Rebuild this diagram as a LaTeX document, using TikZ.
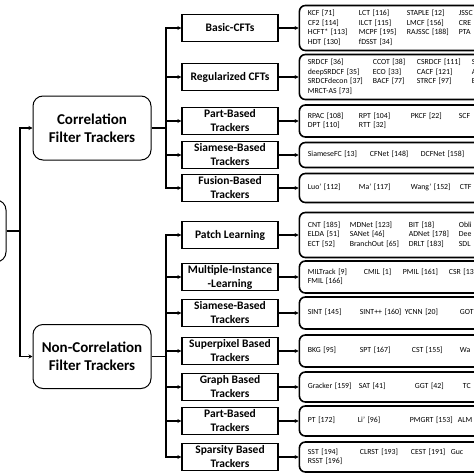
\documentclass[tikz,border=0pt]{standalone}
\usepackage{fontspec}
\usepackage{array}
\setmainfont{Carlito}
\usetikzlibrary{arrows.meta, positioning}
\newcommand{\reftab}[4]{\begin{tabular}{@{}w{l}{#1pt}@{}w{l}{#2pt}@{}w{l}{#3pt}@{}l@{}}#4\end{tabular}}

\begin{document}
\begin{tikzpicture}[x=1pt, y=-1pt,
    main/.style={draw, rounded corners=10pt, line width=1pt,
                 minimum width=118pt, minimum height=64pt, align=center,
                 font=\fontsize{15}{18}\selectfont\bfseries},
    cat/.style={draw, line width=1.2pt, minimum width=96pt, minimum height=27.5pt,
                inner sep=1pt, align=center, font=\fontsize{11.5}{14}\selectfont\bfseries},
    reflist/.style={draw, rounded corners=6pt, line width=1.6pt, anchor=west,
                    text width=222pt, inner xsep=8.5pt, inner ysep=2pt, align=left,
                    font=\fontsize{7.8}{9.7}\selectfont},
    conn/.style={line width=1.5pt, -{Stealth[length=4pt,width=4pt]}},
    link/.style={line width=1.5pt}
  ]
    \clip (0,0) rectangle (474,474);

    \node[main, minimum width=66pt, minimum height=62pt] (root) at (-27,231) {};
    \node[main] (cft) at (92,128) {Correlation\\Filter Trackers};
    \node[main] (ncft) at (92,356.5) {Non-Correlation\\Filter Trackers};

    \node[cat] (c1) at (230,28) {Basic-CFTs};
    \node[cat] (c2) at (230,77) {Regularized CFTs};
    \node[cat] (c3) at (230,121) {Part-Based\\Trackers};
    \node[cat] (c4) at (230,155) {Siamese-Based\\Trackers};
    \node[cat] (c5) at (230,188) {Fusion-Based\\Trackers};
    \node[cat] (c6) at (230,235) {Patch Learning};
    \node[cat] (c7) at (230,277) {Multiple-Instance\\-Learning};
    \node[cat] (c8) at (230,313) {Siamese-Based\\Trackers};
    \node[cat] (c9) at (230,351) {Superpixel Based\\Trackers};
    \node[cat] (c10) at (230,387) {Graph Based\\Trackers};
    \node[cat] (c11) at (230,421) {Part-Based\\Trackers};
    \node[cat] (c12) at (230,457) {Sparsity Based\\Trackers};

    % reference lists
    \node[reflist, minimum height=45pt, right=20pt of c1] (r1) {\reftab{51}{48}{52}{%
      KCF [71] & LCT [116] & STAPLE [12] & JSSC \\
      CF2 [114] & ILCT [115] & LMCF [156] & CRE \\
      HCFT* [113] & MCPF [195] & RAJSSC [188] & PTA \\
      HDT [130] & fDSST [34] & & }};
    \node[reflist, minimum height=45pt, right=20pt of c2] (r2) {\reftab{65}{44}{55}{%
      SRDCF [36] & CCOT [38] & CSRDCF [111] & S \\
      deepSRDCF [35] & ECO [33] & CACF [121] & A \\
      SRDCFdecon [37] & BACF [77] & STRCF [97] & B \\
      MRCT-AS [73] & & & }};
    \node[reflist, minimum height=32pt, right=20pt of c3] (r3) {\reftab{51}{52}{48}{%
      RPAC [108] & RPT [104] & PKCF [22] & SCF \\
      DPT [110] & RTT [32] & & }};
    \node[reflist, minimum height=25pt, right=20pt of c4] (r4) {\reftab{62}{51}{53}{%
      SiameseFC [13] & CFNet [148] & DCFNet [158] & D}};
    \node[reflist, minimum height=29pt, right=20pt of c5] (r5) {\reftab{51}{52}{49}{%
      Luo' [112] & Ma' [117] & Wang' [152] & CTF [}};
    \node[reflist, minimum height=45pt, right=20pt of c6] (r6) {\reftab{42}{59}{50}{%
      CNT [185] & MDNet [123] & BIT [18] & Obli \\
      ELDA [51] & SANet [46] & ADNet [178] & Dee \\
      ECT [52] & BranchOut [65] & DRLT [183] & SDL}};
    \node[reflist, minimum height=32pt, right=20pt of c7] (r7) {\reftab{56}{39}{46}{%
      MILTrack [9] & CMIL [1] & PMIL [161] & CSR [13 \\
      FMIL [166] & & & }};
    \node[reflist, minimum height=32pt, right=20pt of c8] (r8) {\reftab{52}{45}{55}{%
      SINT [145] & SINT++ [160] & YCNN [20] & GOT}};
    \node[reflist, minimum height=32pt, right=20pt of c9] (r9) {\reftab{52}{52}{48}{%
      BKG [95] & SPT [167] & CST [155] & Wa}};
    \node[reflist, minimum height=30pt, right=20pt of c10] (r10) {\reftab{51}{56}{48}{%
      Gracker [159] & SAT [41] & GGT [42] & TC}};
    \node[reflist, minimum height=30pt, right=20pt of c11] (r11) {\reftab{50}{52}{48}{%
      PT [172] & Li' [96] & PMGRT [153] & ALM}};
    \node[reflist, minimum height=30pt, right=20pt of c12] (r12) {\reftab{52}{51}{40}{%
      SST [194] & CLRST [193] & CEST [191] & Guc \\
      RSST [196] & & & }};

    % connectors
    \coordinate (trunk) at (20,231);
    \coordinate (cj) at (166,128);
    \coordinate (nj) at (166,356.5);
    \draw[link] (root.east) -- (trunk);
    \draw[conn] (trunk) |- (cft.west);
    \draw[conn] (trunk) |- (ncft.west);
    \draw[link] (cft.east) -- (cj);
    \draw[link] (ncft.east) -- (nj);
    \foreach \i in {1,...,5} \draw[conn] (cj) |- (c\i.west);
    \foreach \i in {6,...,12} \draw[conn] (nj) |- (c\i.west);
    \foreach \i in {1,...,12} \draw[conn] (c\i.east) -- (c\i.east -| r\i.west);
\end{tikzpicture}
\end{document}
